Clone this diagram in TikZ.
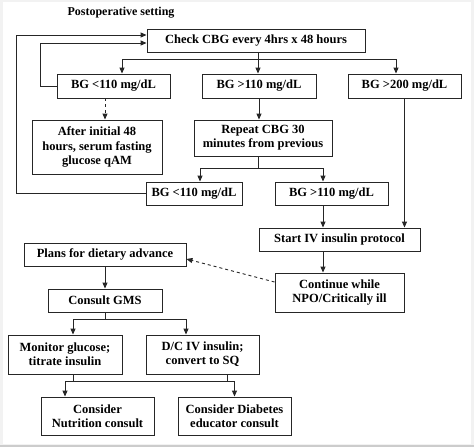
\documentclass[tikz,border=0pt]{standalone}
\usepackage{fontspec}
\setmainfont{Liberation Serif}
\usetikzlibrary{arrows.meta}

\begin{document}
\begin{tikzpicture}[
  x=1pt, y=-1pt,
  box/.style={draw=black!85, line width=0.9pt, inner sep=0pt, align=center,
    font=\fontsize{12.5}{14.3}\selectfont\bfseries},
  sz/.style 2 args={minimum width=#1pt, minimum height=#2pt},
  arrow/.style={-{Triangle[length=6pt,width=5pt]}, line width=0.9pt, draw=black!85},
  dasharrow/.style={arrow, dashed}
]
% frame of the figure
\useasboundingbox (0,0) rectangle (474,447);
\fill[gray!10] (0,0) rectangle (474,447);
\fill[white] (3,2) rectangle (471,444);
\fill[gray!40] (0,444.5) rectangle (474,447);

\node[font=\fontsize{12}{14}\selectfont\bfseries] (title) at (121,13) {Postoperative setting};

% boxes
\node[box, sz={218}{23}] (check) at (256,40.5) {Check CBG every 4hrs x 48 hours};
\node[box, sz={113}{24}] (lowA) at (113.5,86) {BG <110 mg/dL};
\node[box, sz={114}{24}] (highA) at (259,86) {BG >110 mg/dL};
\node[box, sz={113}{24}] (high200) at (404.5,86) {BG >200 mg/dL};
\node[box, sz={130}{54}] (after) at (97,147) {After initial 48\\hours, serum fasting\\glucose qAM};
\node[box, sz={138}{36}] (repeat) at (263,138) {Repeat CBG 30\\minutes from previous};
\node[box, sz={96}{23}] (lowB) at (194,193.5) {BG <110 mg/dL};
\node[box, sz={113}{23}] (highB) at (331.5,193.5) {BG >110 mg/dL};
\node[box, sz={161}{23}] (startiv) at (339.5,239.5) {Start IV insulin protocol};
\node[box, sz={129}{39}] (cont) at (339.5,292.5) {Continue while\\NPO/Critically ill};
\node[box, sz={162}{23}] (plans) at (105,254.5) {Plans for dietary advance};
\node[box, sz={114}{23}] (gms) at (105,300.5) {Consult GMS};
\node[box, sz={114}{39}] (monitor) at (65,354.5) {Monitor glucose;\\titrate insulin};
\node[box, sz={113}{39}] (dciv) at (202.5,354.5) {D/C IV insulin;\\convert to SQ};
\node[box, sz={113}{38}] (nutr) at (97.5,416) {Consider\\Nutrition consult};
\node[box, sz={113}{38}] (diab) at (234.5,416) {Consider Diabetes\\educator consult};

% branch points
\coordinate (br1) at (258,59);
\coordinate (br2) at (258,168);
\coordinate (br3) at (105,319);
\coordinate (br4) at (150,381);
\coordinate (hB) at ([xshift=-8.5pt]highB.south);

% connectors
\draw[line width=0.9pt, black!85] (check.south -| br1) -- (br1);
\draw[arrow] (br1) -| ([xshift=8.5pt]lowA.north);
\draw[arrow] (br1) -- (highA.north -| br1);
\draw[arrow] (br1) -| ([xshift=-8.5pt]high200.north);
\draw[arrow] (lowA.west) -- ++(-16,0) |- ([yshift=-2.5pt]check.west);
\draw[arrow] (lowB.west) -- ++(-129,0) |- ([yshift=5.5pt]check.west);
\draw[dasharrow] ([xshift=-8.5pt]lowA.south) -- ([xshift=8pt]after.north);
\draw[arrow] (highA.south) -- (highA.south |- repeat.north);
\draw[line width=0.9pt, black!85] (repeat.south -| br2) -- (br2);
\draw[arrow] (br2) -| ([xshift=6pt]lowB.north);
\draw[arrow] (br2) -| ([xshift=-8.5pt]highB.north);
\draw[arrow] (hB) -- (hB |- startiv.north);
\draw[arrow] (high200.south) -- (high200.south |- startiv.north);
\draw[arrow] (hB |- startiv.south) -- (hB |- cont.north);
\draw[dasharrow] ([yshift=10.5pt]cont.west) -- ([yshift=-4.5pt]plans.east);
\draw[arrow] (plans.south) -- (gms.north);
\draw[line width=0.9pt, black!85] (gms.south) -- (br3);
\draw[arrow] (br3) -| ([xshift=8pt]monitor.north);
\draw[arrow] (br3) -| ([xshift=-16.5pt]dciv.north);
\draw[line width=0.9pt, black!85] ([xshift=8pt]monitor.south) -- ++(0,7);
\draw[line width=0.9pt, black!85] ([xshift=24.5pt]dciv.south) -- ++(0,7);
\draw[arrow] (br4) -| ([xshift=-32.5pt]nutr.north);
\draw[arrow] (br4) -| (diab.north);
\end{tikzpicture}
\end{document}
